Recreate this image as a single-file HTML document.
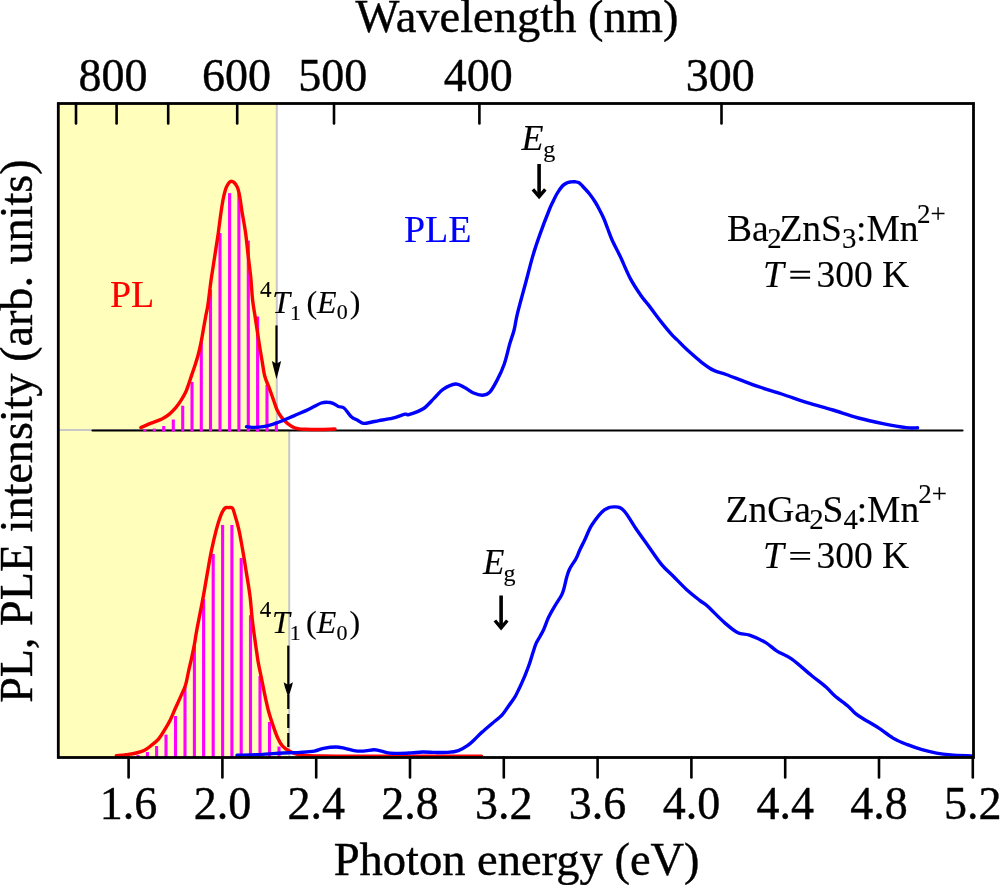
<!DOCTYPE html><html><head><meta charset="utf-8"><style>html,body{margin:0;padding:0;background:#fff;overflow:hidden;}svg{display:block;will-change:transform;}text{font-family:"Liberation Serif",serif;stroke:currentColor;stroke-width:0.15px;}text.b{stroke-width:0.4px;}</style></head><body>
<svg width="1000" height="885" viewBox="0 0 1000 885">
<rect x="58.3" y="103.5" width="218.5" height="326.5" fill="#FFFEBA"/>
<rect x="58.3" y="430.0" width="230.9" height="327.5" fill="#FFFEBA"/>
<line x1="276.8" y1="103.5" x2="276.8" y2="430.0" stroke="#C8C8C8" stroke-width="2"/>
<line x1="289.2" y1="430.0" x2="289.2" y2="757.5" stroke="#C8C8C8" stroke-width="2"/>
<line x1="58.3" y1="430.0" x2="289.2" y2="430.0" stroke="#C8C8C8" stroke-width="2"/>
<line x1="92.5" y1="430.5" x2="962.5" y2="430.5" stroke="#000" stroke-width="2.2" stroke-linecap="round"/>
<line x1="144.8" y1="431.6" x2="144.8" y2="429.4" stroke="#FF00FF" stroke-width="3.1"/>
<line x1="154.3" y1="431.6" x2="154.3" y2="428.6" stroke="#FF00FF" stroke-width="3.1"/>
<line x1="163.7" y1="431.6" x2="163.7" y2="426" stroke="#FF00FF" stroke-width="3.1"/>
<line x1="173.3" y1="431.6" x2="173.3" y2="419.5" stroke="#FF00FF" stroke-width="3.1"/>
<line x1="182.7" y1="431.6" x2="182.7" y2="405.7" stroke="#FF00FF" stroke-width="3.1"/>
<line x1="192.0" y1="431.6" x2="192.0" y2="381.9" stroke="#FF00FF" stroke-width="3.1"/>
<line x1="201.3" y1="431.6" x2="201.3" y2="342" stroke="#FF00FF" stroke-width="3.1"/>
<line x1="210.5" y1="431.6" x2="210.5" y2="289.6" stroke="#FF00FF" stroke-width="3.1"/>
<line x1="220.0" y1="431.6" x2="220.0" y2="233.0" stroke="#FF00FF" stroke-width="3.1"/>
<line x1="229.6" y1="431.6" x2="229.6" y2="193.1" stroke="#FF00FF" stroke-width="3.1"/>
<line x1="238.9" y1="431.6" x2="238.9" y2="193.1" stroke="#FF00FF" stroke-width="3.1"/>
<line x1="248.3" y1="431.6" x2="248.3" y2="240.7" stroke="#FF00FF" stroke-width="3.1"/>
<line x1="257.6" y1="431.6" x2="257.6" y2="316.5" stroke="#FF00FF" stroke-width="3.1"/>
<line x1="267.0" y1="431.6" x2="267.0" y2="385" stroke="#FF00FF" stroke-width="3.1"/>
<line x1="276.3" y1="431.6" x2="276.3" y2="421.3" stroke="#FF00FF" stroke-width="3.1"/>
<line x1="138.0" y1="757.5" x2="138.0" y2="755" stroke="#FF00FF" stroke-width="3.1"/>
<line x1="147.4" y1="757.5" x2="147.4" y2="752.0" stroke="#FF00FF" stroke-width="3.1"/>
<line x1="156.6" y1="757.5" x2="156.6" y2="746.0" stroke="#FF00FF" stroke-width="3.1"/>
<line x1="166.0" y1="757.5" x2="166.0" y2="734.6" stroke="#FF00FF" stroke-width="3.1"/>
<line x1="175.5" y1="757.5" x2="175.5" y2="716" stroke="#FF00FF" stroke-width="3.1"/>
<line x1="185.0" y1="757.5" x2="185.0" y2="687" stroke="#FF00FF" stroke-width="3.1"/>
<line x1="194.4" y1="757.5" x2="194.4" y2="646" stroke="#FF00FF" stroke-width="3.1"/>
<line x1="203.6" y1="757.5" x2="203.6" y2="599.1" stroke="#FF00FF" stroke-width="3.1"/>
<line x1="213.2" y1="757.5" x2="213.2" y2="554" stroke="#FF00FF" stroke-width="3.1"/>
<line x1="222.6" y1="757.5" x2="222.6" y2="525" stroke="#FF00FF" stroke-width="3.1"/>
<line x1="231.9" y1="757.5" x2="231.9" y2="525" stroke="#FF00FF" stroke-width="3.1"/>
<line x1="241.2" y1="757.5" x2="241.2" y2="558" stroke="#FF00FF" stroke-width="3.1"/>
<line x1="250.5" y1="757.5" x2="250.5" y2="615.3" stroke="#FF00FF" stroke-width="3.1"/>
<line x1="260.0" y1="757.5" x2="260.0" y2="676" stroke="#FF00FF" stroke-width="3.1"/>
<line x1="269.5" y1="757.5" x2="269.5" y2="722" stroke="#FF00FF" stroke-width="3.1"/>
<line x1="279.0" y1="757.5" x2="279.0" y2="746.6" stroke="#FF00FF" stroke-width="3.1"/>
<path d="M140.9,427.5 C142.6,426.8 147.6,424.6 151.1,423.2 C154.6,421.8 158.8,420.5 161.9,419.0 C165.0,417.5 167.1,416.0 169.4,414.1 C171.7,412.2 173.8,410.0 175.8,407.7 C177.8,405.4 179.6,402.7 181.2,400.2 C182.8,397.7 184.2,395.3 185.5,392.6 C186.8,389.9 187.6,387.0 188.7,384.0 C189.8,381.0 190.8,377.6 191.9,374.4 C193.0,371.2 194.1,368.1 195.2,364.7 C196.3,361.3 197.4,357.8 198.4,354.0 C199.4,350.2 200.2,346.6 201.1,342.1 C202.0,337.6 203.0,331.5 203.8,327.0 C204.6,322.5 205.2,319.0 205.9,315.3 C206.6,311.6 207.0,311.2 207.9,305.0 C208.8,298.8 210.2,286.0 211.4,277.8 C212.6,269.6 213.7,263.2 214.8,255.8 C215.9,248.5 217.1,241.0 218.2,233.7 C219.2,226.3 220.2,217.8 221.1,211.7 C222.0,205.6 222.7,201.2 223.6,197.0 C224.5,192.8 225.3,189.3 226.6,186.7 C227.9,184.1 229.7,181.2 231.4,181.2 C233.2,181.2 235.7,184.1 237.1,186.7 C238.5,189.3 239.0,192.8 239.8,197.0 C240.6,201.2 241.0,205.6 242.0,211.7 C243.0,217.8 244.7,226.3 245.7,233.7 C246.7,241.0 247.3,248.5 248.2,255.8 C249.0,263.2 250.1,270.4 250.8,277.8 C251.5,285.2 251.9,293.8 252.6,300.0 C253.3,306.2 254.1,310.2 254.9,315.3 C255.7,320.4 256.4,325.4 257.2,330.5 C258.0,335.6 258.7,340.7 259.5,345.8 C260.3,350.9 261.2,355.9 262.1,361.0 C263.0,366.1 263.6,371.7 264.8,376.3 C266.0,380.9 268.0,384.7 269.4,388.5 C270.8,392.3 271.9,395.6 273.2,399.1 C274.5,402.7 275.6,406.8 277.0,409.8 C278.4,412.9 279.8,415.1 281.6,417.4 C283.4,419.7 285.4,421.8 287.7,423.6 C290.0,425.4 292.2,427.2 295.3,428.1 C298.4,429.1 301.7,429.1 306.0,429.3 C310.3,429.5 316.5,429.6 321.3,429.5 C326.1,429.4 332.7,429.1 335.0,429.0" fill="none" stroke="#FF0000" stroke-width="3.4" stroke-linejoin="round" stroke-linecap="round"/>
<path d="M116.3,755.8 C118.0,755.6 122.9,755.2 126.2,754.7 C129.5,754.2 133.0,753.8 136.1,753.0 C139.2,752.2 141.9,751.5 144.5,750.2 C147.1,748.9 149.2,747.1 151.6,745.2 C154.0,743.3 156.6,741.4 158.7,738.9 C160.8,736.4 162.4,733.5 164.3,730.4 C166.2,727.3 168.1,724.3 170.0,720.5 C171.9,716.7 173.7,712.0 175.6,707.8 C177.5,703.6 179.7,698.9 181.3,695.1 C183.0,691.3 184.3,689.0 185.5,685.2 C186.7,681.4 187.4,676.7 188.3,672.5 C189.2,668.3 190.1,664.8 191.2,659.8 C192.3,654.8 193.8,647.8 194.7,642.8 C195.6,637.8 195.3,637.9 196.8,630.0 C198.3,622.1 201.8,604.8 203.5,595.4 C205.2,586.0 206.0,580.7 207.3,573.4 C208.6,566.1 209.8,558.7 211.3,551.4 C212.8,544.1 214.8,535.5 216.4,529.4 C218.0,523.3 219.7,518.2 221.1,514.7 C222.5,511.2 223.6,509.4 224.8,508.2 C226.0,507.0 227.2,507.6 228.5,507.6 C229.8,507.6 231.3,507.0 232.4,508.2 C233.5,509.4 233.7,511.2 234.8,514.7 C235.9,518.2 237.5,523.3 238.8,529.4 C240.2,535.5 241.6,544.1 242.9,551.4 C244.2,558.7 245.3,566.1 246.5,573.4 C247.7,580.7 248.9,587.6 249.9,595.4 C250.9,603.2 251.4,611.8 252.3,620.0 C253.2,628.2 254.7,637.8 255.6,644.6 C256.6,651.4 257.1,655.5 258.0,661.0 C258.9,666.5 260.2,671.9 261.3,677.4 C262.4,682.9 263.4,688.1 264.6,693.8 C265.8,699.5 267.3,706.6 268.7,711.8 C270.1,717.0 271.3,720.5 272.8,724.9 C274.3,729.3 276.1,734.5 277.7,738.0 C279.3,741.5 280.7,744.0 282.6,746.2 C284.5,748.4 286.7,749.7 289.2,751.1 C291.7,752.5 294.1,753.6 297.4,754.4 C300.7,755.2 302.6,755.5 308.9,755.8 C315.2,756.1 319.8,756.0 335.0,756.1 C350.2,756.2 375.6,756.1 400.0,756.1 C424.4,756.1 468.0,756.1 481.6,756.1" fill="none" stroke="#FF0000" stroke-width="3.4" stroke-linejoin="round" stroke-linecap="round"/>
<path d="M246.5,426.6 C247.8,426.7 251.4,427.4 254.2,427.4 C257.0,427.4 260.2,427.1 263.3,426.6 C266.4,426.1 269.2,425.3 272.5,424.3 C275.8,423.3 279.6,421.9 283.1,420.5 C286.7,419.1 290.0,417.5 293.8,415.9 C297.6,414.2 302.7,412.1 306.0,410.6 C309.3,409.1 311.1,408.1 313.6,406.8 C316.2,405.5 319.0,403.8 321.3,403.0 C323.6,402.2 325.4,402.1 327.4,402.2 C329.3,402.2 331.2,402.6 333.0,403.3 C334.8,404.0 336.6,405.7 338.4,406.5 C340.2,407.3 341.9,406.4 344.0,408.0 C346.1,409.6 348.7,414.3 351.0,416.4 C353.3,418.5 355.9,419.4 358.0,420.6 C360.1,421.8 361.3,423.2 363.6,423.4 C365.9,423.6 369.4,422.5 372.0,422.0 C374.6,421.5 375.6,421.2 379.0,420.6 C382.4,420.0 388.2,419.3 392.6,418.2 C397.0,417.1 402.5,414.8 405.2,414.2 C407.9,413.6 405.8,415.5 408.8,414.6 C411.8,413.7 419.0,411.5 423.2,408.8 C427.4,406.1 430.7,401.6 434.0,398.4 C437.3,395.2 439.4,391.8 443.0,389.4 C446.6,387.0 452.0,384.3 455.6,384.0 C459.2,383.7 461.6,386.1 464.6,387.6 C467.6,389.1 470.6,391.7 473.6,393.0 C476.6,394.3 479.9,395.3 482.6,395.2 C485.3,395.1 487.4,394.6 489.8,392.1 C492.2,389.6 494.6,385.0 497.0,380.4 C499.4,375.8 502.1,370.2 504.2,364.2 C506.3,358.2 508.0,350.1 509.6,344.4 C511.2,338.7 512.8,335.1 514.1,330.0 C515.4,324.9 515.5,321.6 517.3,314.1 C519.1,306.7 522.4,294.9 525.0,285.3 C527.6,275.7 530.2,265.0 532.7,256.4 C535.2,247.7 537.5,241.1 540.3,233.4 C543.0,225.7 547.1,215.2 549.2,210.0 C551.3,204.8 551.5,204.7 552.8,202.0 C554.1,199.3 555.2,196.7 556.8,194.0 C558.4,191.3 560.7,187.9 562.4,186.0 C564.1,184.1 565.8,183.5 567.2,182.8 C568.6,182.1 569.7,182.1 571.0,181.9 C572.3,181.7 573.7,181.7 575.0,181.8 C576.3,182.0 577.8,182.1 579.0,182.8 C580.2,183.5 580.6,184.1 582.4,186.0 C584.2,187.9 587.5,191.3 589.6,194.0 C591.7,196.7 593.5,199.3 595.2,202.0 C596.9,204.7 598.1,207.2 599.6,210.0 C601.1,212.8 602.6,215.8 604.0,219.0 C605.4,222.2 606.6,225.9 608.0,229.5 C609.4,233.1 610.2,235.8 612.2,240.3 C614.2,244.8 617.2,250.2 620.3,256.6 C623.3,263.0 627.1,272.5 630.5,278.9 C633.9,285.3 637.7,290.8 640.7,295.2 C643.8,299.6 645.4,301.0 648.8,305.4 C652.2,309.8 657.3,316.9 661.0,321.6 C664.7,326.3 668.4,330.8 671.1,333.8 C673.8,336.9 674.5,337.2 677.2,339.9 C679.9,342.6 683.3,346.4 687.4,350.1 C691.5,353.8 697.2,358.9 701.6,362.3 C706.0,365.7 709.7,368.4 713.8,370.4 C717.9,372.4 721.2,372.8 726.0,374.5 C730.8,376.2 736.9,378.6 742.3,380.6 C747.7,382.6 752.0,384.5 758.5,386.7 C765.0,388.9 773.5,391.4 781.6,394.0 C789.7,396.6 798.7,399.9 807.2,402.6 C815.7,405.3 824.3,407.4 832.8,410.0 C841.3,412.6 849.9,415.7 858.4,418.0 C866.9,420.3 876.0,422.2 884.0,423.8 C892.0,425.4 900.8,426.9 906.4,427.6 C912.0,428.3 915.7,427.8 917.6,427.8" fill="none" stroke="#0000FF" stroke-width="3.4" stroke-linejoin="round" stroke-linecap="round"/>
<path d="M237.0,755.2 C240.2,755.1 250.4,755.1 256.4,754.8 C262.4,754.5 267.3,753.9 272.8,753.6 C278.3,753.3 284.7,753.0 289.2,752.8 C293.7,752.6 295.8,752.7 300.0,752.4 C304.2,752.1 310.5,751.8 314.4,751.1 C318.3,750.4 319.8,749.1 323.4,748.4 C327.0,747.7 332.4,747.0 336.0,747.0 C339.6,747.0 342.0,747.8 345.0,748.4 C348.0,749.0 351.0,750.1 354.0,750.6 C357.0,751.1 359.7,751.2 363.0,751.1 C366.3,751.0 371.1,749.8 373.8,749.7 C376.5,749.6 376.8,750.1 379.2,750.6 C381.6,751.1 384.9,752.4 388.2,752.9 C391.5,753.4 395.1,753.4 399.0,753.4 C402.9,753.4 407.7,753.1 411.6,752.9 C415.5,752.7 418.5,752.1 422.4,752.0 C426.3,751.9 430.8,752.3 435.0,752.4 C439.2,752.5 443.7,752.7 447.6,752.4 C451.5,752.1 455.1,751.7 458.4,750.6 C461.7,749.5 464.7,747.6 467.4,745.7 C470.1,743.8 472.5,741.4 474.6,739.4 C476.7,737.4 478.5,735.3 480.0,733.9 C481.5,732.5 481.6,732.5 483.7,730.7 C485.8,728.9 489.3,726.0 492.4,723.3 C495.5,720.6 499.7,717.5 502.4,714.6 C505.1,711.7 506.5,708.8 508.6,705.9 C510.7,703.0 512.9,700.3 514.8,697.2 C516.7,694.1 518.1,690.7 519.8,687.2 C521.5,683.7 523.2,679.7 524.8,676.0 C526.3,672.3 527.9,668.3 529.1,664.8 C530.3,661.3 531.1,658.4 532.2,654.9 C533.4,651.4 534.7,646.8 536.0,643.7 C537.3,640.6 538.7,638.9 540.0,636.5 C541.3,634.1 542.2,632.7 543.7,629.5 C545.2,626.3 546.8,621.0 548.7,617.1 C550.6,613.2 552.8,609.4 554.9,605.9 C557.0,602.4 559.6,598.7 561.1,596.0 C562.6,593.3 562.7,592.9 563.6,589.8 C564.5,586.7 565.7,580.8 566.7,577.3 C567.7,573.8 568.2,571.7 569.8,568.6 C571.3,565.5 574.3,561.9 576.0,558.7 C577.7,555.5 578.5,552.6 580.0,549.5 C581.5,546.4 582.7,544.1 584.7,540.0 C586.7,535.9 588.7,529.8 592.0,524.8 C595.3,519.8 600.5,512.9 604.4,509.9 C608.3,506.9 612.3,506.7 615.6,506.9 C618.9,507.1 620.8,507.3 624.3,511.1 C627.8,514.9 632.6,523.8 636.7,529.8 C640.8,535.8 645.0,541.4 649.1,547.2 C653.2,553.0 657.5,559.6 661.6,564.6 C665.8,569.6 669.9,572.9 674.0,577.0 C678.1,581.1 682.1,585.5 686.4,589.4 C690.7,593.3 696.5,597.8 700.0,600.6 C703.5,603.4 703.3,602.4 707.4,606.1 C711.5,609.8 719.7,618.5 724.8,622.9 C729.9,627.3 733.8,630.8 737.9,632.8 C742.0,634.8 744.9,633.5 749.5,635.1 C754.1,636.7 760.8,639.7 765.4,642.4 C770.0,645.1 772.6,648.4 777.0,651.1 C781.4,653.9 785.7,654.8 791.5,658.9 C797.3,663.0 806.0,671.0 811.8,675.7 C817.6,680.4 822.4,683.9 826.3,687.3 C830.2,690.7 831.4,692.9 835.0,696.0 C838.6,699.1 844.7,703.3 848.1,706.2 C851.5,709.1 852.6,711.2 855.3,713.4 C857.9,715.6 860.1,716.8 864.0,719.2 C867.9,721.6 873.7,724.8 878.5,727.9 C883.3,731.0 888.2,735.3 893.0,738.1 C897.8,740.9 902.7,742.8 907.5,744.7 C912.3,746.6 917.2,748.3 922.0,749.7 C926.8,751.1 931.7,752.2 936.5,753.1 C941.3,754.0 945.0,754.4 951.0,754.9 C957.0,755.4 969.2,755.8 972.8,756.0" fill="none" stroke="#0000FF" stroke-width="3.4" stroke-linejoin="round" stroke-linecap="round"/>
<rect x="58.3" y="103.5" width="915.2" height="654.0" fill="none" stroke="#000" stroke-width="2.8"/>
<line x1="76.0" y1="103.5" x2="76.0" y2="123.5" stroke="#000" stroke-width="2.6" stroke-linecap="round"/>
<line x1="116.6" y1="103.5" x2="116.6" y2="123.5" stroke="#000" stroke-width="2.6" stroke-linecap="round"/>
<line x1="168.2" y1="103.5" x2="168.2" y2="123.5" stroke="#000" stroke-width="2.6" stroke-linecap="round"/>
<line x1="237.2" y1="103.5" x2="237.2" y2="123.5" stroke="#000" stroke-width="2.6" stroke-linecap="round"/>
<line x1="334.0" y1="103.5" x2="334.0" y2="123.5" stroke="#000" stroke-width="2.6" stroke-linecap="round"/>
<line x1="479.4" y1="103.5" x2="479.4" y2="123.5" stroke="#000" stroke-width="2.6" stroke-linecap="round"/>
<line x1="721.5" y1="103.5" x2="721.5" y2="123.5" stroke="#000" stroke-width="2.6" stroke-linecap="round"/>
<line x1="128.6" y1="757.5" x2="128.6" y2="777.5" stroke="#000" stroke-width="2.6" stroke-linecap="round"/>
<line x1="222.4" y1="757.5" x2="222.4" y2="777.5" stroke="#000" stroke-width="2.6" stroke-linecap="round"/>
<line x1="316.2" y1="757.5" x2="316.2" y2="777.5" stroke="#000" stroke-width="2.6" stroke-linecap="round"/>
<line x1="410.0" y1="757.5" x2="410.0" y2="777.5" stroke="#000" stroke-width="2.6" stroke-linecap="round"/>
<line x1="503.8" y1="757.5" x2="503.8" y2="777.5" stroke="#000" stroke-width="2.6" stroke-linecap="round"/>
<line x1="597.6" y1="757.5" x2="597.6" y2="777.5" stroke="#000" stroke-width="2.6" stroke-linecap="round"/>
<line x1="691.4" y1="757.5" x2="691.4" y2="777.5" stroke="#000" stroke-width="2.6" stroke-linecap="round"/>
<line x1="785.2" y1="757.5" x2="785.2" y2="777.5" stroke="#000" stroke-width="2.6" stroke-linecap="round"/>
<line x1="879.0" y1="757.5" x2="879.0" y2="777.5" stroke="#000" stroke-width="2.6" stroke-linecap="round"/>
<line x1="972.8" y1="757.5" x2="972.8" y2="777.5" stroke="#000" stroke-width="2.6" stroke-linecap="round"/>
<text x="78.6" y="91.3" font-size="46" class="b">800</text>
<text x="202.0" y="91.3" font-size="46" class="b">600</text>
<text x="298.3" y="91.3" font-size="46" class="b">500</text>
<text x="443.8" y="91.3" font-size="46" class="b">400</text>
<text x="685.8" y="91.3" font-size="46" class="b">300</text>
<text class="b" x="128.6" y="819" font-size="46" text-anchor="middle">1.6</text>
<text class="b" x="222.4" y="819" font-size="46" text-anchor="middle">2.0</text>
<text class="b" x="316.2" y="819" font-size="46" text-anchor="middle">2.4</text>
<text class="b" x="410.0" y="819" font-size="46" text-anchor="middle">2.8</text>
<text class="b" x="503.8" y="819" font-size="46" text-anchor="middle">3.2</text>
<text class="b" x="597.6" y="819" font-size="46" text-anchor="middle">3.6</text>
<text class="b" x="691.4" y="819" font-size="46" text-anchor="middle">4.0</text>
<text class="b" x="785.2" y="819" font-size="46" text-anchor="middle">4.4</text>
<text class="b" x="879.0" y="819" font-size="46" text-anchor="middle">4.8</text>
<text class="b" x="972.8" y="819" font-size="46" text-anchor="middle">5.2</text>
<text x="355.5" y="31.6" font-size="46.5" class="b">Wavelength (nm)</text>
<text x="333.7" y="875.0" font-size="46.5" class="b">Photon energy (eV)</text>
<text class="b" transform="translate(31.9,702.8) rotate(-90)" font-size="46.15">PL, PLE intensity (arb. units)</text>
<text x="109.9" y="306.8" font-size="38" fill="#FF0000" style="color:#FF0000">PL</text>
<text x="403.9" y="241.5" font-size="38" fill="#0000FF" style="color:#0000FF">PLE</text>
<text x="727.1" y="241.4" font-size="37.5">Ba</text>
<text x="767.3" y="248.4" font-size="28.8">2</text>
<text x="779.4" y="241.4" font-size="37.5">ZnS</text>
<text x="842.0" y="248.0" font-size="28.8">3</text>
<text x="856.0" y="241.4" font-size="37.5">:Mn</text>
<text x="916.9" y="222.6" font-size="27">2+</text>
<text x="762.9" y="287.0" font-size="37.5" font-style="italic">T</text>
<text x="816.4" y="287.2" font-size="37.5">300</text>
<text x="881.9" y="287.2" font-size="37.5">K</text>
<path d="M790.3,271.8 H810.1 M790.3,277.8 H810.1" stroke="#000" stroke-width="1.9"/>
<text x="725.6" y="522.0" font-size="37.5">ZnGa</text>
<text x="809.3" y="529.0" font-size="28.8">2</text>
<text x="822.5" y="522.0" font-size="37.5">S</text>
<text x="843.4" y="529.0" font-size="28.8">4</text>
<text x="856.7" y="522.0" font-size="37.5">:Mn</text>
<text x="918.3" y="503.2" font-size="27">2+</text>
<text x="762.9" y="568.1" font-size="37.5" font-style="italic">T</text>
<text x="816.4" y="568.3" font-size="37.5">300</text>
<text x="881.9" y="568.3" font-size="37.5">K</text>
<path d="M790.3,552.9 H810.1 M790.3,558.9 H810.1" stroke="#000" stroke-width="1.9"/>
<text x="521.5" y="149.8" font-size="36" font-style="italic">E</text>
<text x="543.2" y="156.8" font-size="24">g</text>
<text x="483.1" y="574.2" font-size="35" font-style="italic">E</text>
<text x="503.6" y="581.2" font-size="24">g</text>
<text x="260.1" y="296.7" font-size="23">4</text>
<text x="272.2" y="312.7" font-size="32" font-style="italic">T</text>
<text x="290.0" y="319.6" font-size="22">1</text>
<text x="306.4" y="312.7" font-size="32">(</text>
<text x="317.0" y="312.7" font-size="32" font-style="italic">E</text>
<text x="336.7" y="319.4" font-size="22">0</text>
<text x="349.7" y="312.7" font-size="32">)</text>
<text x="259.8" y="617.4" font-size="23">4</text>
<text x="271.9" y="633.4" font-size="32" font-style="italic">T</text>
<text x="289.7" y="640.3" font-size="22">1</text>
<text x="306.1" y="633.4" font-size="32">(</text>
<text x="316.7" y="633.4" font-size="32" font-style="italic">E</text>
<text x="336.4" y="640.1" font-size="22">0</text>
<text x="349.4" y="633.4" font-size="32">)</text>
<line x1="539.1" y1="164" x2="539.1" y2="196.8" stroke="#000" stroke-width="3.6"/><polyline points="532.9,189.3 539.1,196.60000000000002 545.3000000000001,189.3" fill="none" stroke="#000" stroke-width="3.4" stroke-linejoin="miter" stroke-miterlimit="10"/>
<line x1="501.1" y1="595.5" x2="501.1" y2="628" stroke="#000" stroke-width="3.6"/><polyline points="494.90000000000003,620.5 501.1,627.8 507.3,620.5" fill="none" stroke="#000" stroke-width="3.4" stroke-linejoin="miter" stroke-miterlimit="10"/>
<line x1="276.5" y1="325.4" x2="276.5" y2="364.1" stroke="#000" stroke-width="2.2"/><path d="M271.9,361.1 L276.5,363.70000000000005 L281.1,361.1 L280.1,365.3 L276.5,379.2 L272.9,365.3 Z" fill="#000"/>
<line x1="288.3" y1="645.6" x2="288.3" y2="685.3" stroke="#000" stroke-width="2.2"/><path d="M283.7,682.3 L288.3,684.9 L292.90000000000003,682.3 L291.90000000000003,686.5 L288.3,697.5 L284.7,686.5 Z" fill="#000"/>
<line x1="288.3" y1="695" x2="288.3" y2="749" stroke="#000" stroke-width="2.2" stroke-dasharray="14,5"/>
</svg></body></html>
